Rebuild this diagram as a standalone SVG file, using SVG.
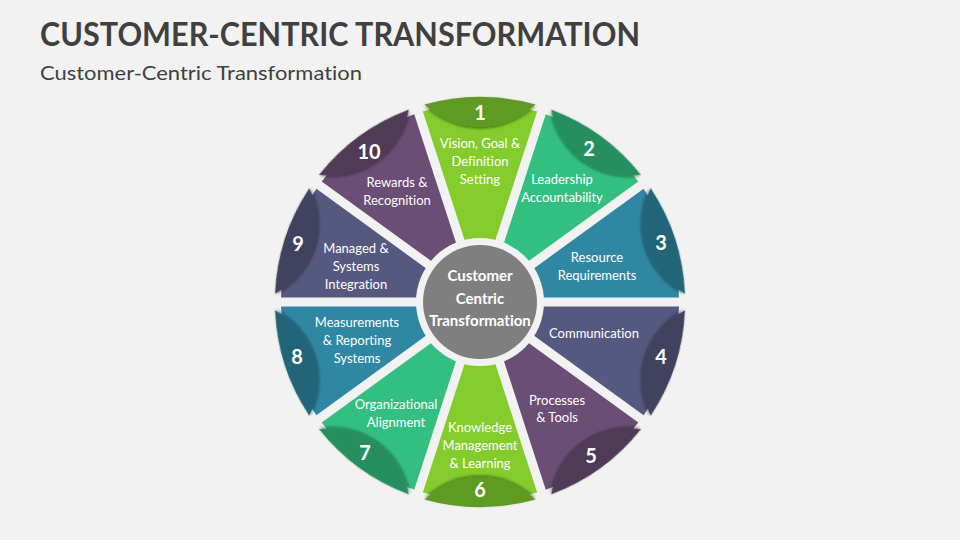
<svg xmlns="http://www.w3.org/2000/svg" width="960" height="540" viewBox="0 0 960 540">
<defs>
<style>
text{font-variant-ligatures:none;font-feature-settings:"liga" 0,"clig" 0}
.t{font-family:Lato,"Open Sans","Liberation Sans",sans-serif;fill:#fff;font-size:13px;text-anchor:middle}
.n{font-weight:700;font-size:20px}
.c{font-weight:700;font-size:15px}
.h{font-family:Lato,"Open Sans","Liberation Sans",sans-serif;fill:#404040}
.g1{fill:#84CC2B}.k1{fill:#5E9A23}
.g2{fill:#33BF80}.k2{fill:#268F5D}
.g3{fill:#2F87A3}.k3{fill:#226579}
.g4{fill:#55587F}.k4{fill:#3F425F}
.g5{fill:#6A4E75}.k5{fill:#4F3A57}
</style>
<path id="wedge" d="M0,-14.56 L-57.19,-190.61 A199,199 0 0 1 57.19,-190.61 Z"/>
<path id="tab" d="M-55.5,-197.5 A205,205 0 0 1 55.5,-197.5 A80,80 0 0 1 -55.5,-197.5 Z"/>
<filter id="sh" x="-30%" y="-30%" width="160%" height="160%">
<feDropShadow dx="0" dy="1.5" stdDeviation="1.5" flood-color="#000" flood-opacity="0.45"/>
</filter>
</defs>
<rect width="960" height="540" fill="#F2F2F2"/>
<text class="h" x="40" y="46" font-size="32" font-weight="700" textLength="600" lengthAdjust="spacingAndGlyphs">CUSTOMER-CENTRIC TRANSFORMATION</text>
<text class="h" x="40" y="80" font-size="19" textLength="322" lengthAdjust="spacingAndGlyphs">Customer-Centric Transformation</text>

<g id="connectors"/>

<g id="node1">
<use href="#wedge" class="g1" transform="translate(480,302)"/>
<use href="#tab" class="k1" filter="url(#sh)" transform="translate(480,302)"/>
<text class="t n" x="480" y="120">1</text>
<text class="t" x="480" y="148">Vision, Goal &amp;</text>
<text class="t" x="480" y="166">Definition</text>
<text class="t" x="480" y="184">Setting</text>
</g>
<g id="node2">
<use href="#wedge" class="g2" transform="translate(480,302) rotate(36)"/>
<use href="#tab" class="k2" filter="url(#sh)" transform="translate(480,302) rotate(36)"/>
<text class="t n" x="589" y="156">2</text>
<text class="t" x="562" y="183.5">Leadership</text>
<text class="t" x="562" y="201.5">Accountability</text>
</g>
<g id="node3">
<use href="#wedge" class="g3" transform="translate(480,302) rotate(72)"/>
<use href="#tab" class="k3" filter="url(#sh)" transform="translate(480,302) rotate(72)"/>
<text class="t n" x="661" y="250">3</text>
<text class="t" x="597" y="262">Resource</text>
<text class="t" x="597" y="280">Requirements</text>
</g>
<g id="node4">
<use href="#wedge" class="g4" transform="translate(480,302) rotate(108)"/>
<use href="#tab" class="k4" filter="url(#sh)" transform="translate(480,302) rotate(108)"/>
<text class="t n" x="661" y="364">4</text>
<text class="t" x="594" y="338">Communication</text>
</g>
<g id="node5">
<use href="#wedge" class="g5" transform="translate(480,302) rotate(144)"/>
<use href="#tab" class="k5" filter="url(#sh)" transform="translate(480,302) rotate(144)"/>
<text class="t n" x="591" y="463">5</text>
<text class="t" x="557" y="405">Processes</text>
<text class="t" x="557" y="422">&amp; Tools</text>
</g>
<g id="node6">
<use href="#wedge" class="g1" transform="translate(480,302) rotate(180)"/>
<use href="#tab" class="k1" filter="url(#sh)" transform="translate(480,302) rotate(180)"/>
<text class="t n" x="480" y="497">6</text>
<text class="t" x="480" y="432">Knowledge</text>
<text class="t" x="480" y="450">Management</text>
<text class="t" x="480" y="468">&amp; Learning</text>
</g>
<g id="node7">
<use href="#wedge" class="g2" transform="translate(480,302) rotate(216)"/>
<use href="#tab" class="k2" filter="url(#sh)" transform="translate(480,302) rotate(216)"/>
<text class="t n" x="365" y="460">7</text>
<text class="t" x="396" y="409">Organizational</text>
<text class="t" x="396" y="427">Alignment</text>
</g>
<g id="node8">
<use href="#wedge" class="g3" transform="translate(480,302) rotate(252)"/>
<use href="#tab" class="k3" filter="url(#sh)" transform="translate(480,302) rotate(252)"/>
<text class="t n" x="297" y="364">8</text>
<text class="t" x="357" y="327">Measurements</text>
<text class="t" x="357" y="345">&amp; Reporting</text>
<text class="t" x="357" y="363">Systems</text>
</g>
<g id="node9">
<use href="#wedge" class="g4" transform="translate(480,302) rotate(288)"/>
<use href="#tab" class="k4" filter="url(#sh)" transform="translate(480,302) rotate(288)"/>
<text class="t n" x="298" y="251">9</text>
<text class="t" x="356" y="253">Managed &amp;</text>
<text class="t" x="356" y="271">Systems</text>
<text class="t" x="356" y="289">Integration</text>
</g>
<g id="node10">
<use href="#wedge" class="g5" transform="translate(480,302) rotate(324)"/>
<use href="#tab" class="k5" filter="url(#sh)" transform="translate(480,302) rotate(324)"/>
<text class="t n" x="369" y="159">10</text>
<text class="t" x="397" y="187">Rewards &amp;</text>
<text class="t" x="397" y="205">Recognition</text>
</g>
<g id="center">
<circle cx="480" cy="302" r="64" fill="#F2F2F2"/>
<circle cx="480" cy="302" r="57" fill="#7F7F7F"/>
<text class="t c" x="480" y="280.5">Customer</text>
<text class="t c" x="480" y="303.5">Centric</text>
<text class="t c" x="480" y="325.5">Transformation</text>
</g>
</svg>
